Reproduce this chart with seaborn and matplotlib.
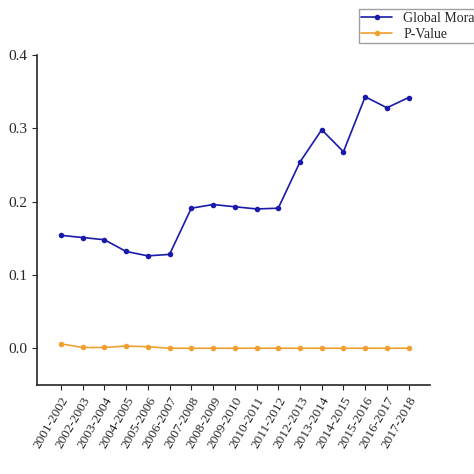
import matplotlib
matplotlib.use("Agg")
import matplotlib.pyplot as plt
import seaborn as sns
import pandas as pd

periods = ["2001-2002", "2002-2003", "2003-2004", "2004-2005", "2005-2006", "2006-2007",
           "2007-2008", "2008-2009", "2009-2010", "2010-2011", "2011-2012", "2012-2013",
           "2013-2014", "2014-2015", "2015-2016", "2016-2017", "2017-2018"]
morans_i = [0.154, 0.151, 0.148, 0.132, 0.126, 0.128, 0.191, 0.196, 0.193, 0.190, 0.191,
            0.254, 0.298, 0.268, 0.343, 0.328, 0.342]
p_value = [0.006, 0.001, 0.001, 0.003, 0.002, 0.0, 0.0, 0.0, 0.0, 0.0, 0.0,
           0.0, 0.0, 0.0, 0.0, 0.0, 0.0]

sns.set_style("ticks")
plt.rcParams['font.family'] = ['Liberation Serif', 'DejaVu Serif']

df = pd.DataFrame({"period": periods, "Global Moran's I": morans_i, "P-Value": p_value})
long = df.melt(id_vars="period", var_name="series", value_name="value")

fig = plt.figure(figsize=(4.74, 4.74), dpi=100)
ax = fig.add_axes([0.078, 0.188, 0.83, 0.696])
sns.lineplot(data=long, x="period", y="value", hue="series", sort=False,
             palette=["#1a1aaa", "#f0a030"], marker="o", markersize=4,
             markeredgewidth=0, linewidth=1.2, ax=ax)
ax.set_ylim(-0.05, 0.4)
ax.set_xlim(-1.1, 17)
ax.set_yticks([0.0, 0.1, 0.2, 0.3, 0.4])
ax.set_yticklabels(["0.0", "0.1", "0.2", "0.3", "0.4"], fontsize=11)
ax.tick_params(axis="x", labelrotation=60, labelsize=9.5)
ax.set_xlabel("")
ax.set_ylabel("Global Moran's I", fontsize=9)
ax.yaxis.set_label_coords(-0.085, 0.5)
for lbl in ax.get_xticklabels():
    lbl.set_ha("right")
    lbl.set_rotation_mode("anchor")
sns.despine(ax=ax)
for s in ["left", "bottom"]:
    ax.spines[s].set_linewidth(1.2)
leg = ax.legend(loc="upper left", bbox_to_anchor=(0.80, 1.16), fontsize=10,
                frameon=True, fancybox=False, edgecolor="#888888", handlelength=2.2,
                borderpad=0.2, labelspacing=0.2)
fig.savefig("out.png", dpi=100)
